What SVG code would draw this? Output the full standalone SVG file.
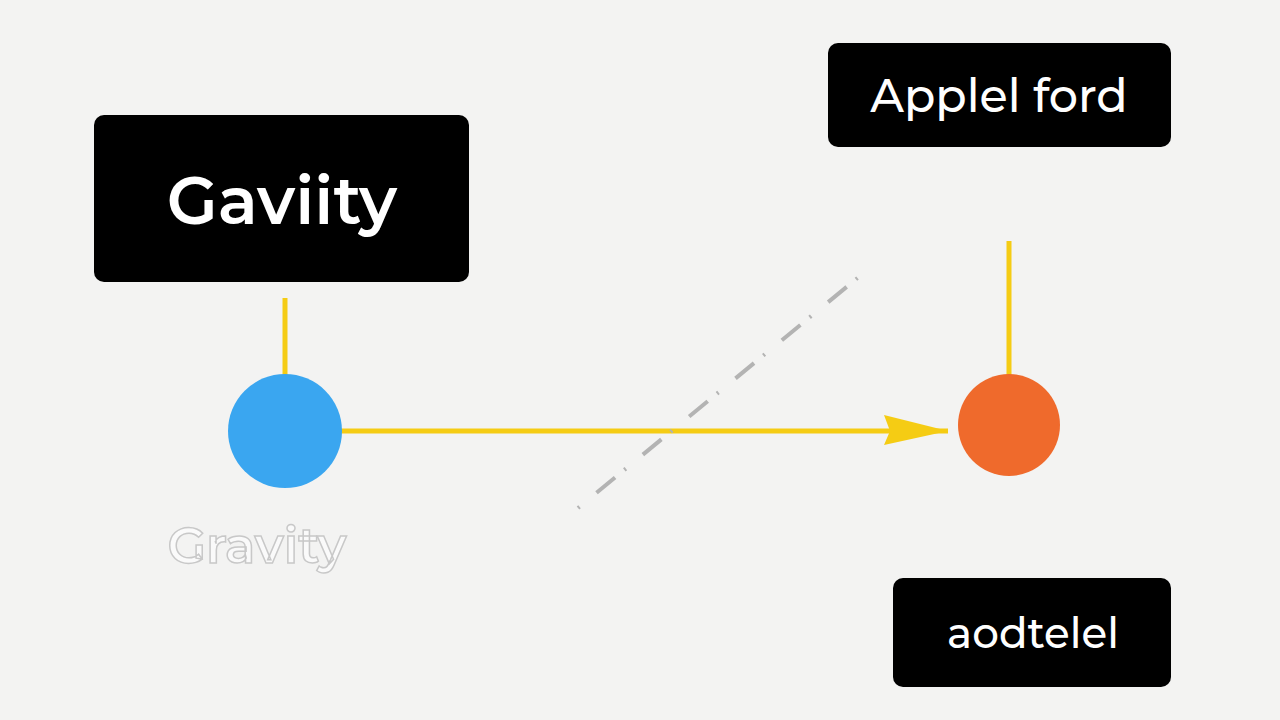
<svg xmlns="http://www.w3.org/2000/svg" width="1280" height="720" viewBox="0 0 1280 720">
<defs>
<style>
.box{fill:#000}
.lbl{font-family:"Montserrat","Noto Sans","Liberation Sans",sans-serif;fill:#fff;text-anchor:middle}
.y{stroke:#f5cc14;stroke-width:5;fill:none}
</style>
<marker id="ah" markerWidth="70" markerHeight="36" refX="66" refY="18" orient="auto" markerUnits="userSpaceOnUse">
<path d="M2,2 L66,18 L2,32 L8,18 Z" fill="#f5cc14"/>
</marker>
</defs>
<rect width="1280" height="720" fill="#f3f3f2"/>
<g id="connectors">
<line class="y" x1="285" y1="298" x2="285" y2="378"/>
<line class="y" x1="1009" y1="241" x2="1009" y2="376"/>
<line class="y" x1="340" y1="431" x2="948" y2="431" marker-end="url(#ah)"/>
<line x1="578" y1="508" x2="872" y2="266" stroke="#b3b3b3" stroke-width="4" stroke-dasharray="2 22 24 12"/>
</g>
<g id="gaviity"><rect class="box" x="94" y="115" width="375" height="167" rx="10"/><text class="lbl" x="282" y="224" font-size="66" font-weight="600">Gaviity</text></g>
<g id="applel"><rect class="box" x="828" y="43" width="343" height="104" rx="10"/><text class="lbl" x="999" y="112" font-size="46" font-weight="500">Applel ford</text></g>
<g id="aodtelel"><rect class="box" x="893" y="578" width="278" height="109" rx="10"/><text class="lbl" x="1033" y="648" font-size="42" font-weight="500">aodtelel</text></g>
<g id="blue"><circle cx="285" cy="431" r="57" fill="#3aa6f0"/></g>
<g id="orange"><circle cx="1009" cy="425" r="51" fill="#ef6a2c"/></g>
<g id="gravity"><text x="257" y="563" font-family="Montserrat,'Noto Sans','Liberation Sans',sans-serif" font-size="50" font-weight="600" text-anchor="middle" fill="#fafafa" stroke="#c8c8c8" stroke-width="1.5">Gravity</text></g>
</svg>
